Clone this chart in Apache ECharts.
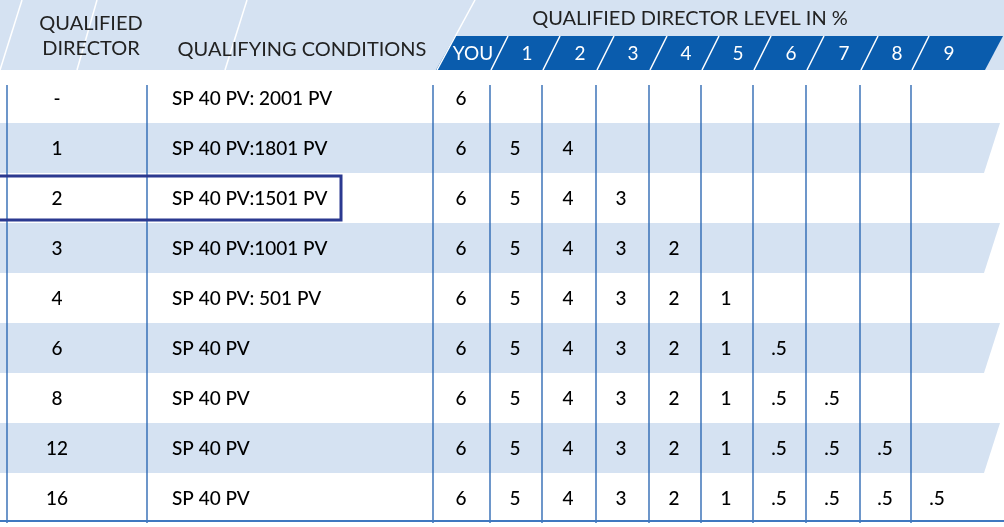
<!DOCTYPE html>
<html><head><meta charset="utf-8">
<script src="https://cdn.jsdelivr.net/npm/echarts@6/dist/echarts.min.js"></script>
<style>html,body{margin:0;padding:0;background:#fff}#c{width:1004px;height:527px}</style>
</head><body><div id="c"></div>
<script>
var directors = ['-', '1', '2', '3', '4', '6', '8', '12', '16'];
var conditions = ['SP 40 PV: 2001 PV', 'SP 40 PV:1801 PV', 'SP 40 PV:1501 PV', 'SP 40 PV:1001 PV', 'SP 40 PV: 501 PV', 'SP 40 PV', 'SP 40 PV', 'SP 40 PV', 'SP 40 PV'];
var levelHeaders = ['YOU', '1', '2', '3', '4', '5', '6', '7', '8', '9'];
var levels = [
  ['6'],
  ['6', '5', '4'],
  ['6', '5', '4', '3'],
  ['6', '5', '4', '3', '2'],
  ['6', '5', '4', '3', '2', '1'],
  ['6', '5', '4', '3', '2', '1', '.5'],
  ['6', '5', '4', '3', '2', '1', '.5', '.5'],
  ['6', '5', '4', '3', '2', '1', '.5', '.5', '.5'],
  ['6', '5', '4', '3', '2', '1', '.5', '.5', '.5', '.5']
];
var title1 = 'QUALIFIED\nDIRECTOR', title2 = 'QUALIFYING CONDITIONS', title3 = 'QUALIFIED DIRECTOR LEVEL IN %';
var highlightRow = 2;

// layout
var colLines = [433, 490, 542, 596, 649, 701, 753, 806, 860, 911];
var colCenters = [461, 515, 568, 621, 674, 726, 779, 832, 885, 937];
var rowTop = 73, rowH = 50;
var LIGHT = '#d5e2f2', DARK = '#0a5cad', LINE = '#1f5fae', TXT = '#000';
var FONT = 'Lato, "Open Sans", sans-serif';

var chart = echarts.init(document.getElementById('c'));
function P(api, x, y) { return api.coord([x, y]); }

chart.setOption({
  animation: false,
  grid: {left: 0, right: 0, top: 0, bottom: 0},
  xAxis: {type: 'value', min: 0, max: 1004, show: false},
  yAxis: {type: 'value', min: 0, max: 527, inverse: true, show: false},
  series: [
  {
    type: 'custom', data: directors.map(function (d, i) { return i; }),
    renderItem: function (params, api) {
      var i = api.value(0);
      var t = rowTop + i * rowH, b = t + rowH, cy = t + rowH / 2 + 1;
      var ch = [];
      if (i % 2 === 1) {
        var a = P(api, 0, t), c = P(api, 1000, t), d = P(api, 984, b), e = P(api, 0, b);
        ch.push({type: 'polygon', shape: {points: [a, c, d, e]}, style: {fill: LIGHT}});
      }
      var lt = (i === 0) ? 85 : t, lb = b;
      [7, 147].concat(colLines).forEach(function (x) {
        var p1 = P(api, x, lt), p2 = P(api, x, lb);
        ch.push({type: 'line', shape: {x1: p1[0], y1: p1[1], x2: p2[0], y2: p2[1]}, style: {stroke: LINE, lineWidth: 1.3}});
      });
      var q = P(api, 57, cy);
      ch.push({type: 'text', style: {text: directors[i], x: q[0], y: q[1], align: 'center', verticalAlign: 'middle', font: '500 19px ' + FONT, fill: TXT}});
      q = P(api, 172, cy);
      ch.push({type: 'text', style: {text: conditions[i], x: q[0], y: q[1], align: 'left', verticalAlign: 'middle', font: '500 19px ' + FONT, fill: TXT}});
      levels[i].forEach(function (v, k) {
        var r = P(api, colCenters[k], cy);
        ch.push({type: 'text', style: {text: v, x: r[0], y: r[1], align: 'center', verticalAlign: 'middle', font: '500 19px ' + FONT, fill: TXT}});
      });
      if (i === highlightRow) {
        var h1 = P(api, -2, t + 3), h2 = P(api, 341, b - 3);
        ch.push({type: 'rect', shape: {x: h1[0], y: h1[1], width: h2[0] - h1[0], height: h2[1] - h1[1]}, style: {fill: 'none', stroke: '#2b3990', lineWidth: 3}});
      }
      return {type: 'group', children: ch};
    }
  },
  {
    type: 'custom', data: [0],
    renderItem: function (params, api) {
      var ch = [];
      ch.push({type: 'polygon', shape: {points: [P(api, 0, 0), P(api, 1004, 0), P(api, 1004, 70), P(api, 0, 70)]}, style: {fill: LIGHT}});
      ch.push({type: 'polygon', shape: {points: [P(api, 455, 36), P(api, 1003, 36), P(api, 985, 70), P(api, 436, 70)]}, style: {fill: DARK}});
      [[22, 0], [97, 77], [247, 225], [475, 437]].forEach(function (s) {
        var a = P(api, s[0], 0), b = P(api, s[1], 70);
        ch.push({type: 'line', shape: {x1: a[0], y1: a[1], x2: b[0], y2: b[1]}, style: {stroke: '#fff', lineWidth: 1.5}});
      });
      for (var k = 1; k < colLines.length; k++) {
        var a = P(api, colLines[k] + 18, 36), b = P(api, colLines[k] + 1, 70);
        ch.push({type: 'line', shape: {x1: a[0], y1: a[1], x2: b[0], y2: b[1]}, style: {stroke: '#fff', lineWidth: 1.5}});
      }
      levelHeaders.forEach(function (h, k) {
        var p = P(api, colCenters[k] + 12, 54);
        ch.push({type: 'text', style: {text: h, x: p[0], y: p[1], align: 'center', verticalAlign: 'middle', font: '19px ' + FONT, fill: '#fff'}});
      });
      var p = P(api, 91, 36);
      ch.push({type: 'text', style: {text: title1, x: p[0], y: p[1], align: 'center', verticalAlign: 'middle', font: '20px ' + FONT, fill: '#222', lineHeight: 25}});
      p = P(api, 302, 50);
      ch.push({type: 'text', style: {text: title2, x: p[0], y: p[1], align: 'center', verticalAlign: 'middle', font: '20px ' + FONT, fill: '#222'}});
      p = P(api, 690, 19);
      ch.push({type: 'text', style: {text: title3, x: p[0], y: p[1], align: 'center', verticalAlign: 'middle', font: '20px ' + FONT, fill: '#222'}});
      var l1 = P(api, 0, 521), l2 = P(api, 1004, 521);
      ch.push({type: 'line', shape: {x1: l1[0], y1: l1[1], x2: l2[0], y2: l2[1]}, style: {stroke: '#3f78c0', lineWidth: 2}});
      return {type: 'group', children: ch};
    }
  }]
});
</script></body></html>
